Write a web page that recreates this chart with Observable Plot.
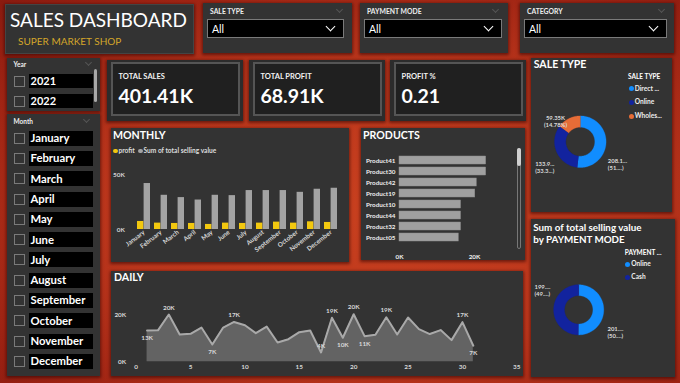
<!DOCTYPE html>
<html><head><meta charset="utf-8">
<script src="https://cdn.jsdelivr.net/npm/d3@7"></script>
<script src="https://cdn.jsdelivr.net/npm/@observablehq/plot@0.6"></script>
<style>
*{box-sizing:border-box}
html,body{margin:0;padding:0;background:#b5331c}
#root{position:relative;width:680px;height:383px;overflow:hidden;font-family:Lato,"Open Sans",sans-serif;color:#fff;
 background:radial-gradient(ellipse at 55% 55%, #c8401f 0%, #bb361c 50%, #9a2112 85%, #8a1b10 100%)}
.p{position:absolute;background:#333;box-shadow:0 1px 3px 1px rgba(40,0,0,.55)}
.t{position:absolute;font-weight:700;white-space:nowrap;line-height:1.2}
.box{position:absolute}
.chev{position:absolute;width:7px;height:7px;border-right:1.4px solid #fff;border-bottom:1.4px solid #fff;transform:rotate(45deg)}
.chevf{position:absolute;width:5px;height:5px;border-right:1px solid #555;border-bottom:1px solid #555;transform:rotate(45deg)}
.cb{position:absolute;width:11px;height:11px;border:1px solid #7a7a7a}
.lb{position:absolute;background:#000}
.dot{position:absolute;border-radius:50%}
svg{overflow:visible}
</style></head><body><div id="root"></div>
<script>
// ---------------- DATA ----------------
const slicerNames = ["SALE TYPE", "PAYMENT MODE", "CATEGORY"];
const slicerValue = "All";
const years = ["2021", "2022"];
const months = ["January","February","March","April","May","June","July","August","September","October","November","December"];
const kpiNames = ["TOTAL SALES", "TOTAL PROFIT", "PROFIT %"];
const kpiValues = ["401.41K", "68.91K", "0.21"];
// monthly, in thousands
const monthSales = [41.8, 31.1, 29.0, 26.8, 31.1, 30.8, 35.4, 35.4, 35.4, 33.8, 36.6, 37.5];
const monthProfit = [7.3, 5.8, 5.5, 5.5, 4.6, 5.8, 5.5, 5.8, 6.7, 5.8, 7.0, 6.4];
const products = ["Product41","Product30","Product42","Product19","Product10","Product44","Product32","Product05"];
const productSales = [23.1, 23.1, 20.6, 20.2, 16.4, 16.4, 16.4, 15.8];
const dailySales = [13.4,13.5,20.3,11.7,12.0,14.7,7.4,14.7,17.1,15.7,12.3,15.1,8.3,9.7,12.7,13.4,4.0,18.9,10.3,20.4,11.0,11.6,19.1,11.7,19.0,14.0,11.9,13.6,9.3,17.0,6.9];
const labeledDays = [1,3,7,9,17,18,19,20,21,23,30,31];
const saleTypes = ["Direct Sale", "Online", "Wholesale"];
const saleTypeLegend = ["Direct ...", "Online", "Wholes..."];
const saleTypeValues = [208.10, 133.96, 59.35];
const saleTypeLabels = ["208.1...\n(51....)", "133.9...\n(33.3...)", "59.35K\n(14.78%)"];
const paymentModes = ["Online", "Cash"];
const paymentValues = [201.50, 199.91];
const paymentLabels = ["201....\n(50....)", "199....\n(49....)"];

// ---------------- HELPERS ----------------
const root = document.getElementById("root");
function panel(x,y,w,h,extra=""){const d=document.createElement("div");d.className="p";d.style.cssText+=`left:${x}px;top:${y}px;width:${w}px;height:${h}px;${extra}`;root.appendChild(d);return d;}
function box(cls,x,y,w,h,extra=""){const d=document.createElement("div");d.className=cls;d.style.cssText+=`left:${x}px;top:${y}px;width:${w}px;height:${h}px;${extra}`;root.appendChild(d);return d;}
function txt(x,cy,s,size,extra=""){const d=document.createElement("div");d.className="t";d.textContent=s;d.style.cssText+=`left:${x}px;top:${cy-0.63*size}px;font-size:${size}px;${extra}`;root.appendChild(d);return d;}
function chev(x,y){const d=document.createElement("div");d.className="chev";d.style.left=x+"px";d.style.top=y+"px";root.appendChild(d);}
function chevf(x,y){const d=document.createElement("div");d.className="chevf";d.style.left=x+"px";d.style.top=y+"px";root.appendChild(d);}
function place(node,x,y){const w=document.createElement("div");w.style.cssText=`position:absolute;left:${x}px;top:${y}px`;w.appendChild(node);root.appendChild(w);}
const baseStyle = {background:"transparent",fontFamily:"Lato, sans-serif",fontWeight:"bold",overflow:"visible"};

// ---------------- HEADER ----------------
panel(5,4,189,50,"border:1px solid #444");
txt(10,21,"SALES DASHBOARD",19,"font-weight:400;color:#fff");
txt(18,41,"SUPER MARKET SHOP",10,"font-weight:400;color:#d4a62a");

const slPos = [{x:203,w:149,bw:137},{x:360,w:148,bw:138},{x:520,w:154,bw:143}];
slicerNames.forEach((n,i)=>{
  const s=slPos[i];
  panel(s.x,3,s.w,50);
  txt(s.x+7,11.7,n,6.8,"color:#eee");
  chevf(s.x+s.w-15,7);
  box("box",s.x+4,18.5,s.bw,19.5,"background:#000;border:1px solid #7a7a7a");
  txt(s.x+9,29.5,slicerValue,10.5,"font-weight:400");
  chev(s.x+4+s.bw-17,23);
});

// ---------------- YEAR / MONTH SLICERS ----------------
panel(7,58,93,53);
txt(13.5,64.7,"Year",6.5,"color:#eee");
chevf(86,60);
years.forEach((y,i)=>{
  const cy = 81.3 + i*20;
  box("cb",14,cy-5.5,11,11);
  box("lb",29.3,cy-7,64,14);
  txt(30.5,cy,y,11);
});
box("box",94.3,69.3,3,32.4,"background:#a8a8a8;border-radius:2px");

panel(7,114,93,262);
txt(13.5,121.7,"Month",6.5,"color:#eee");
chevf(84,117);
months.forEach((m,i)=>{
  const cy = 138.3 + i*20.27;
  box("cb",14,cy-5.5,11,11);
  box("lb",29.3,cy-7.5,64,15);
  txt(30.5,cy,m,11.3);
});

// ---------------- KPI CARDS ----------------
const kpiPos = [107,249,390];
kpiNames.forEach((n,i)=>{
  const x=kpiPos[i];
  panel(x,59.5,136,61,"background:#2c2c2c");
  box("box",x+4,62.3,129,53.5,"background:#202020;border:2px solid #555");
  txt(x+11.5,77.2,n,7.5,"color:#f2f2f2");
  txt(x+11.5,96.7,kpiValues[i],19.5,"color:#fff");
});

// ---------------- MONTHLY ----------------
panel(110.7,128.3,238,134);
txt(113,135.5,"MONTHLY",10.6);
box("dot",113,148.5,4.5,4.5,"background:#f2c80f");
txt(118.5,150.7,"profit",6.6,"color:#ddd");
box("dot",138,148.5,4.5,4.5,"background:#a3a3a3");
txt(143.5,150.7,"Sum of total selling value",6.6,"color:#ddd");
const monthly = months.map((m,i)=>({month:m, sales:monthSales[i], profit:monthProfit[i]}));
place(Plot.plot({
  width:238, height:102, marginLeft:21.4, marginRight:7.4, marginTop:14, marginBottom:33,
  style:{...baseStyle, color:"#d6d6d6", fontSize:"6.4px"},
  x:{domain:months, padding:0.24, tickRotate:-38, tickSize:0, tickPadding:2, label:null},
  y:{domain:[0,50], ticks:[0,50], tickFormat:d=>d+"K", tickSize:0, tickPadding:8, label:null},
  marks:[
    Plot.barY(monthly,{x:"month", y:"profit", fill:"#f2c80f", insetRight:6.6}),
    Plot.barY(monthly,{x:"month", y:"sales", fill:"#a3a3a3", insetLeft:6.6})
  ]
}),110.7,160);

// ---------------- PRODUCTS ----------------
panel(361.3,128.3,163.4,132);
txt(363,135.5,"PRODUCTS",10.6);
const prod = products.map((p,i)=>({product:p, sales:productSales[i]}));
place(Plot.plot({
  width:164, height:117, marginLeft:38, marginRight:32.25, marginTop:4.3, marginBottom:14.3,
  style:{...baseStyle, color:"#eeeeee", fontSize:"6.3px"},
  x:{domain:[0,25], ticks:[0,20], tickFormat:d=>d+"K", tickSize:0, tickPadding:6, label:null},
  y:{domain:products, padding:0.3, tickSize:0, tickPadding:4, label:null},
  marks:[ Plot.barX(prod,{y:"product", x:"sales", fill:"#a0a0a0", stroke:"#8c8c8c", strokeWidth:0.5}) ]
}),361,145);
box("box",517.3,148,4,101,"border:1px solid #777;border-radius:3px");
box("box",517.3,148,4,18,"background:#cfcfcf;border-radius:3px");

// ---------------- DAILY ----------------
panel(111.3,270.7,411.7,105.6);
txt(114,277.5,"DAILY",10.6);
const daily = dailySales.map((v,i)=>({day:i+1, sales:v}));
const above = new Set([3,9,17,18,20,23,30]);
const lab = daily.filter(d=>labeledDays.includes(d.day));
place(Plot.plot({
  width:412, height:93, marginLeft:24.7, marginRight:6.7, marginTop:20, marginBottom:14.7,
  style:{...baseStyle, color:"#d8d8d8", fontSize:"6.4px"},
  x:{domain:[0,35], ticks:[0,5,10,15,20,25,30,35], tickSize:0, tickPadding:3, label:null},
  y:{domain:[0,25], ticks:[0,20], tickFormat:d=>d+"K", tickSize:0, tickPadding:10, label:null},
  marks:[
    Plot.areaY(daily,{x:"day", y:"sales", fill:"#636363"}),
    Plot.line(daily,{x:"day", y:"sales", stroke:"#a9a9a9", strokeWidth:2}),
    Plot.text(lab.filter(d=>above.has(d.day)),{x:"day", y:"sales", text:d=>Math.round(d.sales)+"K", dy:-7}),
    Plot.text(lab.filter(d=>!above.has(d.day)),{x:"day", y:"sales", text:d=>Math.round(d.sales)+"K", dy:7.5})
  ]
}),111,283);

// ---------------- DONUTS ----------------
function donut(values, colors, labels, nudges, g){
  const arcs = d3.pie().sort(null).value(d=>d)(values);
  const slices = arcs.map(a=>{
    const pts=[], n=80;
    for(let k=0;k<=n;k++){const t=a.startAngle+(a.endAngle-a.startAngle)*k/n; pts.push({x:g.ro*Math.sin(t), y:g.ro*Math.cos(t)});}
    for(let k=n;k>=0;k--){const t=a.startAngle+(a.endAngle-a.startAngle)*k/n; pts.push({x:g.ri*Math.sin(t), y:g.ri*Math.cos(t)});}
    return pts;
  });
  const anchors = arcs.map((a,i)=>{const m=(a.startAngle+a.endAngle)/2; return {x:g.ro*Math.sin(m), y:g.ro*Math.cos(m), label:labels[i]};});
  return Plot.plot({
    width:g.w, height:g.h, margin:0,
    x:{domain:[-g.cx, g.w-g.cx], axis:null},
    y:{domain:[-(g.h-g.cy), g.cy], axis:null},
    style:{...baseStyle, color:"#dcdcdc", fontSize:"5.9px"},
    marks:[
      ...slices.map((s,i)=>Plot.line(s,{x:"x", y:"y", fill:colors[i], stroke:colors[i], strokeWidth:0.3})),
      ...anchors.map((a,i)=>Plot.text([a],{x:"x", y:"y", text:"label", textAnchor:nudges[i].a, dx:nudges[i].dx, dy:nudges[i].dy, lineHeight:1.2}))
    ]
  });
}
const saleColors = ["#118DFF","#12239E","#E66C37"];
panel(530.7,57.7,141.3,154);
txt(533.7,65,"SALE TYPE",10.6);
place(donut(saleTypeValues, saleColors, saleTypeLabels,
  [{a:"start",dx:1.8,dy:20.6},{a:"start",dx:-21.4,dy:14.9},{a:"middle",dx:-13.3,dy:2.3}],
  {w:96,h:125,cx:48.8,cy:66.2,ro:25.8,ri:14.5}), 531, 75);
txt(628,77.3,"SALE TYPE",6.5,"color:#fff");
saleTypeLegend.forEach((n,i)=>{
  const cy=88.7+i*13.65;
  box("dot",628.5,cy-2.5,5,5,`background:${saleColors[i]}`);
  txt(634.7,cy,n,6.6,"color:#eee");
});

const payColors = ["#118DFF","#12239E"];
panel(530.7,219,144,157.7);
txt(533.3,228.3,"Sum of total selling value",9.8);
txt(533.3,239.8,"by PAYMENT MODE",9.8);
place(donut(paymentValues, payColors, paymentLabels,
  [{a:"start",dx:3.7,dy:22.5},{a:"start",dx:-19.1,dy:-19.3}],
  {w:96,h:125,cx:47.2,cy:69.3,ro:25.1,ri:14.2}), 531, 240);
txt(624.7,253.3,"PAYMENT ...",6.5,"color:#fff");
paymentModes.forEach((n,i)=>{
  const cy=264.3+i*13;
  box("dot",624.7,cy-2.5,5,5,`background:${payColors[i]}`);
  txt(631.3,cy,n,6.6,"color:#eee");
});
</script></body></html>
